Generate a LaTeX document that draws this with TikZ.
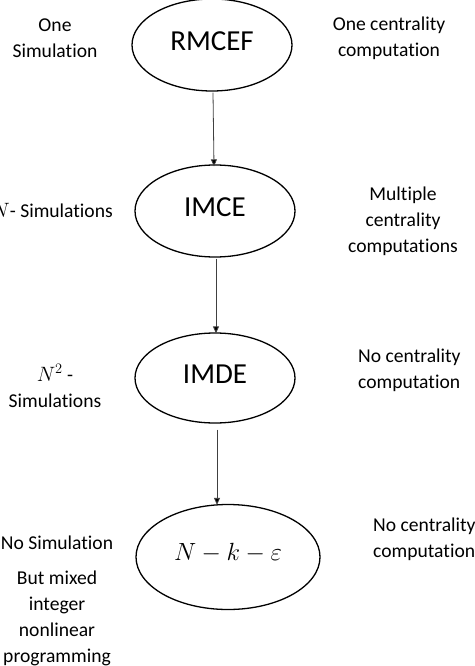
\documentclass[tikz,border=0pt]{standalone}
\usepackage{fontspec}
\setmainfont{Carlito}[Ligatures=NoCommon]
\usetikzlibrary{shapes.geometric,arrows.meta}
\begin{document}
\begin{tikzpicture}[x=1pt,y=-1pt,
  oval/.style={ellipse,draw,line width=1.3pt,inner sep=0pt},
  big/.style={font=\fontsize{29}{34}\selectfont,inner sep=0pt},
  lbl/.style={font=\fontsize{19.6}{26}\selectfont,align=center,inner sep=0pt},
  arr/.style={draw=black!75,line width=0.8pt,-{Triangle[length=7pt,width=6pt,fill=black]}}]
\useasboundingbox (0,0) rectangle (474,666);
\clip (0,0) rectangle (474,666);
\node[oval,minimum width=160pt,minimum height=92pt] (e1) at (212,45) {};
\node[oval,minimum width=160pt,minimum height=92pt] (e2) at (215,211) {};
\node[oval,minimum width=160pt,minimum height=90pt] (e3) at (215,378) {};
\node[oval,minimum width=184pt,minimum height=105pt] (e4) at (228,557) {};
\node[big] (n1) at ([yshift=4pt]e1.center) {RMCEF};
\node[big] (n2) at ([yshift=4pt]e2.center) {IMCE};
\node[big] (n3) at ([yshift=4pt]e3.center) {IMDE};
\node[big,font=\fontsize{28}{34}\selectfont] (n4) at ([yshift=4pt]e4.center) {$N-k-\varepsilon$};
\draw[arr] ([xshift=1pt,yshift=-1pt]e1.south) -- ([xshift=2pt,yshift=-2pt]e1.south |- e2.north);
\draw[arr] ([xshift=1pt,yshift=-1pt]e2.south) -- ([xshift=1pt,yshift=-1pt]e2.south |- e3.north);
\draw[arr] ([xshift=2pt,yshift=-6pt]e3.south) -- ([xshift=2pt,yshift=-1pt]e3.south |- e4.north);
\node[lbl] (t1) at (55,38) {One\\Simulation};
\node[lbl] (t2) at (389,38) {One centrality\\computation};
\node[lbl,anchor=east] (t3) at (113,210) {$N$- Simulations};
\node[lbl] (t4) at (403,221) {Multiple\\centrality\\computations};
\node[lbl] (t5) at (55,386) {$N^2$ -\\Simulations};
\node[lbl,align=left,anchor=west] (t6) at (358,370) {No centrality\\computation};
\node[lbl,align=left,anchor=west] (t7) at (373,539) {No centrality\\computation};
\node[lbl] (t8) at (57,543) {No Simulation};
\node[lbl] (t9) at (57,618) {But mixed\\integer\\nonlinear\\programming};
\end{tikzpicture}
\end{document}
